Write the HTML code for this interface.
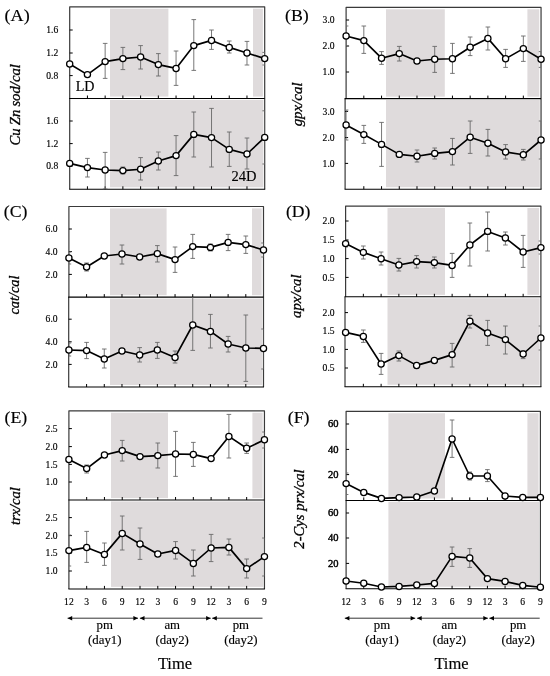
<!DOCTYPE html>
<html lang="en"><head><meta charset="utf-8"><title>Figure</title>
<style>html,body{margin:0;padding:0;background:#fff}body{width:550px;height:676px;overflow:hidden}</style>
</head><body>
<svg width="550" height="676" viewBox="0 0 550 676" style="display:block">
<rect width="550" height="676" fill="#fff"/>
<defs>
<clipPath id="ctA"><rect x="69.70" y="6.80" width="195.00" height="91.70"/></clipPath>
<clipPath id="cbA"><rect x="69.70" y="98.50" width="195.00" height="90.80"/></clipPath>
<clipPath id="ctB"><rect x="346.10" y="7.40" width="194.95" height="91.20"/></clipPath>
<clipPath id="cbB"><rect x="346.10" y="98.60" width="194.95" height="90.60"/></clipPath>
<clipPath id="ctC"><rect x="68.90" y="206.50" width="194.60" height="90.60"/></clipPath>
<clipPath id="cbC"><rect x="68.90" y="297.10" width="194.60" height="89.90"/></clipPath>
<clipPath id="ctD"><rect x="345.60" y="206.10" width="195.30" height="90.70"/></clipPath>
<clipPath id="cbD"><rect x="345.60" y="296.80" width="195.30" height="90.00"/></clipPath>
<clipPath id="ctE"><rect x="68.90" y="410.80" width="195.55" height="89.20"/></clipPath>
<clipPath id="cbE"><rect x="68.90" y="500.00" width="195.55" height="88.90"/></clipPath>
<clipPath id="ctF"><rect x="346.10" y="411.30" width="194.30" height="89.10"/></clipPath>
<clipPath id="cbF"><rect x="346.10" y="500.40" width="194.30" height="88.40"/></clipPath>
</defs>
<rect x="110.00" y="8.70" width="58.40" height="87.90" fill="#dfdbdc"/>
<rect x="253.00" y="8.70" width="9.90" height="87.90" fill="#dfdbdc"/>
<rect x="110.00" y="99.90" width="153.40" height="87.40" fill="#dfdbdc"/>
<path d="M69.70 98.50V6.80H264.70V189.30M69.70 98.50V189.30" stroke="#3a3a3a" stroke-width="1.2" fill="none" stroke-linejoin="round"/>
<path d="M69.20 98.50H264.70M69.20 189.30H265.20" stroke="#000" stroke-width="1.05" fill="none"/>
<path d="M87.43 98.50v-3M87.43 189.30v-3M105.15 98.50v-3M105.15 189.30v-3M122.88 98.50v-3M122.88 189.30v-3M140.61 98.50v-3M140.61 189.30v-3M158.34 98.50v-3M158.34 189.30v-3M176.06 98.50v-3M176.06 189.30v-3M193.79 98.50v-3M193.79 189.30v-3M211.52 98.50v-3M211.52 189.30v-3M229.25 98.50v-3M229.25 189.30v-3M246.97 98.50v-3M246.97 189.30v-3M69.70 30.00h3M69.70 53.00h3M69.70 75.60h3M69.70 121.00h3M69.70 143.60h3M69.70 166.00h3" stroke="#000" stroke-width="1" fill="none"/>
<g font-family="'Liberation Serif', serif" font-size="9.6" stroke-width="0.15" fill="#000" stroke="#000" text-anchor="end">
<text x="58.30" y="33.10">1.6</text>
<text x="58.30" y="56.10">1.2</text>
<text x="58.30" y="78.70">0.8</text>
<text x="58.30" y="124.10">1.6</text>
<text x="58.30" y="146.70">1.2</text>
<text x="58.30" y="169.10">0.8</text>
</g>
<g clip-path="url(#ctA)" stroke="#696969" stroke-width="0.9" fill="none">
<path d="M105.15 43.40V78.40M102.85 43.40h4.6M102.85 78.40h4.6"/>
<path d="M122.88 47.40V69.60M120.58 47.40h4.6M120.58 69.60h4.6"/>
<path d="M140.61 45.60V69.00M138.31 45.60h4.6M138.31 69.00h4.6"/>
<path d="M158.34 53.60V76.00M156.04 53.60h4.6M156.04 76.00h4.6"/>
<path d="M176.06 51.00V85.40M173.76 51.00h4.6M173.76 85.40h4.6"/>
<path d="M193.79 19.60V70.40M191.49 19.60h4.6M191.49 70.40h4.6"/>
<path d="M211.52 30.00V49.40M209.22 30.00h4.6M209.22 49.40h4.6"/>
<path d="M229.25 41.00V53.00M226.95 41.00h4.6M226.95 53.00h4.6"/>
<path d="M246.97 41.40V65.00M244.67 41.40h4.6M244.67 65.00h4.6"/>
<path d="M264.70 52.40V65.00M262.40 52.40h4.6M262.40 65.00h4.6"/>
</g>
<polyline points="69.70,64.00 87.43,74.60 105.15,61.60 122.88,58.60 140.61,57.00 158.34,64.60 176.06,68.40 193.79,45.60 211.52,40.40 229.25,47.40 246.97,53.00 264.70,58.60" fill="none" stroke="#000" stroke-width="1.65" stroke-linejoin="round"/>
<circle cx="69.70" cy="64.00" r="3.1" fill="#fff" stroke="#000" stroke-width="1.25"/>
<circle cx="87.43" cy="74.60" r="3.1" fill="#fff" stroke="#000" stroke-width="1.25"/>
<circle cx="105.15" cy="61.60" r="3.1" fill="#fff" stroke="#000" stroke-width="1.25"/>
<circle cx="122.88" cy="58.60" r="3.1" fill="#fff" stroke="#000" stroke-width="1.25"/>
<circle cx="140.61" cy="57.00" r="3.1" fill="#fff" stroke="#000" stroke-width="1.25"/>
<circle cx="158.34" cy="64.60" r="3.1" fill="#fff" stroke="#000" stroke-width="1.25"/>
<circle cx="176.06" cy="68.40" r="3.1" fill="#fff" stroke="#000" stroke-width="1.25"/>
<circle cx="193.79" cy="45.60" r="3.1" fill="#fff" stroke="#000" stroke-width="1.25"/>
<circle cx="211.52" cy="40.40" r="3.1" fill="#fff" stroke="#000" stroke-width="1.25"/>
<circle cx="229.25" cy="47.40" r="3.1" fill="#fff" stroke="#000" stroke-width="1.25"/>
<circle cx="246.97" cy="53.00" r="3.1" fill="#fff" stroke="#000" stroke-width="1.25"/>
<circle cx="264.70" cy="58.60" r="3.1" fill="#fff" stroke="#000" stroke-width="1.25"/>
<g clip-path="url(#cbA)" stroke="#696969" stroke-width="0.9" fill="none">
<path d="M87.43 158.40V177.00M85.13 158.40h4.6M85.13 177.00h4.6"/>
<path d="M105.15 152.40V189.00M102.85 152.40h4.6M102.85 189.00h4.6"/>
<path d="M122.88 167.00V174.00M120.58 167.00h4.6M120.58 174.00h4.6"/>
<path d="M140.61 157.60V180.00M138.31 157.60h4.6M138.31 180.00h4.6"/>
<path d="M158.34 152.00V170.00M156.04 152.00h4.6M156.04 170.00h4.6"/>
<path d="M176.06 135.60V175.60M173.76 135.60h4.6M173.76 175.60h4.6"/>
<path d="M193.79 112.00V157.00M191.49 112.00h4.6M191.49 157.00h4.6"/>
<path d="M211.52 108.40V167.00M209.22 108.40h4.6M209.22 167.00h4.6"/>
<path d="M229.25 132.00V166.40M226.95 132.00h4.6M226.95 166.40h4.6"/>
<path d="M246.97 138.00V169.00M244.67 138.00h4.6M244.67 169.00h4.6"/>
<path d="M264.70 110.80V164.00M262.40 110.80h4.6M262.40 164.00h4.6"/>
</g>
<polyline points="69.70,163.40 87.43,167.60 105.15,170.00 122.88,170.60 140.61,169.20 158.34,161.00 176.06,155.60 193.79,134.40 211.52,137.60 229.25,149.40 246.97,154.00 264.70,137.40" fill="none" stroke="#000" stroke-width="1.65" stroke-linejoin="round"/>
<circle cx="69.70" cy="163.40" r="3.1" fill="#fff" stroke="#000" stroke-width="1.25"/>
<circle cx="87.43" cy="167.60" r="3.1" fill="#fff" stroke="#000" stroke-width="1.25"/>
<circle cx="105.15" cy="170.00" r="3.1" fill="#fff" stroke="#000" stroke-width="1.25"/>
<circle cx="122.88" cy="170.60" r="3.1" fill="#fff" stroke="#000" stroke-width="1.25"/>
<circle cx="140.61" cy="169.20" r="3.1" fill="#fff" stroke="#000" stroke-width="1.25"/>
<circle cx="158.34" cy="161.00" r="3.1" fill="#fff" stroke="#000" stroke-width="1.25"/>
<circle cx="176.06" cy="155.60" r="3.1" fill="#fff" stroke="#000" stroke-width="1.25"/>
<circle cx="193.79" cy="134.40" r="3.1" fill="#fff" stroke="#000" stroke-width="1.25"/>
<circle cx="211.52" cy="137.60" r="3.1" fill="#fff" stroke="#000" stroke-width="1.25"/>
<circle cx="229.25" cy="149.40" r="3.1" fill="#fff" stroke="#000" stroke-width="1.25"/>
<circle cx="246.97" cy="154.00" r="3.1" fill="#fff" stroke="#000" stroke-width="1.25"/>
<circle cx="264.70" cy="137.40" r="3.1" fill="#fff" stroke="#000" stroke-width="1.25"/>
<text x="4.60" y="20.90" font-family="'Liberation Serif', serif" font-size="17.5" fill="#000" stroke="#000" stroke-width="0.15" textLength="25.1" lengthAdjust="spacingAndGlyphs">(A)</text>
<text transform="translate(20.40 145.45) rotate(-90)" font-family="'Liberation Serif', serif" font-style="italic" font-size="15" word-spacing="-0.6" fill="#000" stroke="#000" stroke-width="0.3" textLength="81.30" lengthAdjust="spacingAndGlyphs">Cu Zn sod/cal</text>
<rect x="386.00" y="9.30" width="58.80" height="87.40" fill="#dfdbdc"/>
<rect x="527.40" y="9.30" width="11.85" height="87.40" fill="#dfdbdc"/>
<rect x="386.00" y="100.00" width="153.75" height="87.20" fill="#dfdbdc"/>
<path d="M346.10 98.60V7.40H541.05V189.20M345.10 98.60V189.20" stroke="#3a3a3a" stroke-width="1.2" fill="none" stroke-linejoin="round"/>
<path d="M344.60 98.60H541.05M344.60 189.20H541.55" stroke="#000" stroke-width="1.05" fill="none"/>
<path d="M363.82 98.60v-3M363.82 189.20v-3M381.55 98.60v-3M381.55 189.20v-3M399.27 98.60v-3M399.27 189.20v-3M416.99 98.60v-3M416.99 189.20v-3M434.71 98.60v-3M434.71 189.20v-3M452.44 98.60v-3M452.44 189.20v-3M470.16 98.60v-3M470.16 189.20v-3M487.88 98.60v-3M487.88 189.20v-3M505.60 98.60v-3M505.60 189.20v-3M523.33 98.60v-3M523.33 189.20v-3M346.10 20.00h3M346.10 46.00h3M346.10 72.00h3M345.10 111.40h3M345.10 137.60h3M345.10 163.40h3" stroke="#000" stroke-width="1" fill="none"/>
<g font-family="'Liberation Serif', serif" font-size="9.6" stroke-width="0.15" fill="#000" stroke="#000" text-anchor="end">
<text x="334.60" y="23.10">3.0</text>
<text x="334.60" y="49.10">2.0</text>
<text x="334.60" y="75.10">1.0</text>
<text x="334.60" y="114.50">3.0</text>
<text x="334.60" y="140.70">2.0</text>
<text x="334.60" y="166.50">1.0</text>
</g>
<g clip-path="url(#ctB)" stroke="#696969" stroke-width="0.9" fill="none">
<path d="M346.10 26.00V46.00M343.80 26.00h4.6M343.80 46.00h4.6"/>
<path d="M363.82 26.00V53.40M361.52 26.00h4.6M361.52 53.40h4.6"/>
<path d="M381.55 51.60V64.40M379.25 51.60h4.6M379.25 64.40h4.6"/>
<path d="M399.27 46.40V61.00M396.97 46.40h4.6M396.97 61.00h4.6"/>
<path d="M434.71 46.40V72.40M432.41 46.40h4.6M432.41 72.40h4.6"/>
<path d="M452.44 43.40V73.40M450.14 43.40h4.6M450.14 73.40h4.6"/>
<path d="M470.16 37.00V55.60M467.86 37.00h4.6M467.86 55.60h4.6"/>
<path d="M487.88 27.00V50.00M485.58 27.00h4.6M485.58 50.00h4.6"/>
<path d="M505.60 49.40V67.40M503.30 49.40h4.6M503.30 67.40h4.6"/>
<path d="M523.33 36.00V61.40M521.03 36.00h4.6M521.03 61.40h4.6"/>
<path d="M541.05 51.60V67.40M538.75 51.60h4.6M538.75 67.40h4.6"/>
</g>
<polyline points="346.10,36.00 363.82,40.60 381.55,58.20 399.27,53.60 416.99,61.00 434.71,59.20 452.44,58.80 470.16,47.20 487.88,38.40 505.60,58.80 523.33,48.60 541.05,59.20" fill="none" stroke="#000" stroke-width="1.65" stroke-linejoin="round"/>
<circle cx="346.10" cy="36.00" r="3.1" fill="#fff" stroke="#000" stroke-width="1.25"/>
<circle cx="363.82" cy="40.60" r="3.1" fill="#fff" stroke="#000" stroke-width="1.25"/>
<circle cx="381.55" cy="58.20" r="3.1" fill="#fff" stroke="#000" stroke-width="1.25"/>
<circle cx="399.27" cy="53.60" r="3.1" fill="#fff" stroke="#000" stroke-width="1.25"/>
<circle cx="416.99" cy="61.00" r="3.1" fill="#fff" stroke="#000" stroke-width="1.25"/>
<circle cx="434.71" cy="59.20" r="3.1" fill="#fff" stroke="#000" stroke-width="1.25"/>
<circle cx="452.44" cy="58.80" r="3.1" fill="#fff" stroke="#000" stroke-width="1.25"/>
<circle cx="470.16" cy="47.20" r="3.1" fill="#fff" stroke="#000" stroke-width="1.25"/>
<circle cx="487.88" cy="38.40" r="3.1" fill="#fff" stroke="#000" stroke-width="1.25"/>
<circle cx="505.60" cy="58.80" r="3.1" fill="#fff" stroke="#000" stroke-width="1.25"/>
<circle cx="523.33" cy="48.60" r="3.1" fill="#fff" stroke="#000" stroke-width="1.25"/>
<circle cx="541.05" cy="59.20" r="3.1" fill="#fff" stroke="#000" stroke-width="1.25"/>
<g clip-path="url(#cbB)" stroke="#696969" stroke-width="0.9" fill="none">
<path d="M346.10 110.00V140.00M343.80 110.00h4.6M343.80 140.00h4.6"/>
<path d="M363.82 125.40V143.40M361.52 125.40h4.6M361.52 143.40h4.6"/>
<path d="M381.55 122.40V166.40M379.25 122.40h4.6M379.25 166.40h4.6"/>
<path d="M416.99 150.00V162.00M414.69 150.00h4.6M414.69 162.00h4.6"/>
<path d="M434.71 148.00V159.00M432.41 148.00h4.6M432.41 159.00h4.6"/>
<path d="M452.44 138.40V165.00M450.14 138.40h4.6M450.14 165.00h4.6"/>
<path d="M470.16 121.00V153.40M467.86 121.00h4.6M467.86 153.40h4.6"/>
<path d="M487.88 129.40V156.00M485.58 129.40h4.6M485.58 156.00h4.6"/>
<path d="M505.60 144.60V159.00M503.30 144.60h4.6M503.30 159.00h4.6"/>
<path d="M523.33 149.40V160.00M521.03 149.40h4.6M521.03 160.00h4.6"/>
<path d="M541.05 121.00V159.00M538.75 121.00h4.6M538.75 159.00h4.6"/>
</g>
<polyline points="346.10,125.00 363.82,134.60 381.55,144.40 399.27,154.40 416.99,156.20 434.71,153.40 452.44,151.60 470.16,137.20 487.88,143.20 505.60,152.00 523.33,154.80 541.05,140.00" fill="none" stroke="#000" stroke-width="1.65" stroke-linejoin="round"/>
<circle cx="346.10" cy="125.00" r="3.1" fill="#fff" stroke="#000" stroke-width="1.25"/>
<circle cx="363.82" cy="134.60" r="3.1" fill="#fff" stroke="#000" stroke-width="1.25"/>
<circle cx="381.55" cy="144.40" r="3.1" fill="#fff" stroke="#000" stroke-width="1.25"/>
<circle cx="399.27" cy="154.40" r="3.1" fill="#fff" stroke="#000" stroke-width="1.25"/>
<circle cx="416.99" cy="156.20" r="3.1" fill="#fff" stroke="#000" stroke-width="1.25"/>
<circle cx="434.71" cy="153.40" r="3.1" fill="#fff" stroke="#000" stroke-width="1.25"/>
<circle cx="452.44" cy="151.60" r="3.1" fill="#fff" stroke="#000" stroke-width="1.25"/>
<circle cx="470.16" cy="137.20" r="3.1" fill="#fff" stroke="#000" stroke-width="1.25"/>
<circle cx="487.88" cy="143.20" r="3.1" fill="#fff" stroke="#000" stroke-width="1.25"/>
<circle cx="505.60" cy="152.00" r="3.1" fill="#fff" stroke="#000" stroke-width="1.25"/>
<circle cx="523.33" cy="154.80" r="3.1" fill="#fff" stroke="#000" stroke-width="1.25"/>
<circle cx="541.05" cy="140.00" r="3.1" fill="#fff" stroke="#000" stroke-width="1.25"/>
<text x="285.00" y="20.90" font-family="'Liberation Serif', serif" font-size="17.5" fill="#000" stroke="#000" stroke-width="0.15" textLength="23.8" lengthAdjust="spacingAndGlyphs">(B)</text>
<text transform="translate(301.50 126.35) rotate(-90)" font-family="'Liberation Serif', serif" font-style="italic" font-size="15" word-spacing="0" fill="#000" stroke="#000" stroke-width="0.3" textLength="43.90" lengthAdjust="spacingAndGlyphs">gpx/cal</text>
<rect x="110.00" y="208.40" width="56.60" height="86.80" fill="#dfdbdc"/>
<rect x="252.00" y="208.40" width="9.70" height="86.80" fill="#dfdbdc"/>
<rect x="110.00" y="298.50" width="152.20" height="86.50" fill="#dfdbdc"/>
<path d="M68.90 297.10V206.50H263.50V387.00M68.70 297.10V387.00" stroke="#3a3a3a" stroke-width="1.2" fill="none" stroke-linejoin="round"/>
<path d="M68.20 297.10H263.50M68.20 387.00H264.00" stroke="#000" stroke-width="1.05" fill="none"/>
<path d="M86.59 297.10v-3M86.59 387.00v-3M104.28 297.10v-3M104.28 387.00v-3M121.97 297.10v-3M121.97 387.00v-3M139.66 297.10v-3M139.66 387.00v-3M157.35 297.10v-3M157.35 387.00v-3M175.05 297.10v-3M175.05 387.00v-3M192.74 297.10v-3M192.74 387.00v-3M210.43 297.10v-3M210.43 387.00v-3M228.12 297.10v-3M228.12 387.00v-3M245.81 297.10v-3M245.81 387.00v-3M68.90 229.00h3M68.90 251.60h3M68.90 274.40h3M68.70 319.20h3M68.70 341.80h3M68.70 364.40h3" stroke="#000" stroke-width="1" fill="none"/>
<g font-family="'Liberation Serif', serif" font-size="9.6" stroke-width="0.15" fill="#000" stroke="#000" text-anchor="end">
<text x="57.60" y="232.10">6.0</text>
<text x="57.60" y="254.70">4.0</text>
<text x="57.60" y="277.50">2.0</text>
<text x="57.60" y="322.30">6.0</text>
<text x="57.60" y="344.90">4.0</text>
<text x="57.60" y="367.50">2.0</text>
</g>
<g clip-path="url(#ctC)" stroke="#696969" stroke-width="0.9" fill="none">
<path d="M68.90 252.00V264.00M66.60 252.00h4.6M66.60 264.00h4.6"/>
<path d="M86.59 263.00V271.00M84.29 263.00h4.6M84.29 271.00h4.6"/>
<path d="M121.97 245.00V264.00M119.67 245.00h4.6M119.67 264.00h4.6"/>
<path d="M157.35 245.60V262.00M155.05 245.60h4.6M155.05 262.00h4.6"/>
<path d="M175.05 247.00V272.40M172.75 247.00h4.6M172.75 272.40h4.6"/>
<path d="M192.74 234.40V258.40M190.44 234.40h4.6M190.44 258.40h4.6"/>
<path d="M210.43 244.00V251.00M208.13 244.00h4.6M208.13 251.00h4.6"/>
<path d="M228.12 234.40V250.60M225.82 234.40h4.6M225.82 250.60h4.6"/>
<path d="M245.81 236.00V253.40M243.51 236.00h4.6M243.51 253.40h4.6"/>
<path d="M263.50 243.00V257.00M261.20 243.00h4.6M261.20 257.00h4.6"/>
</g>
<polyline points="68.90,258.00 86.59,267.00 104.28,256.00 121.97,254.00 139.66,257.00 157.35,253.60 175.05,259.60 192.74,246.60 210.43,247.40 228.12,242.40 245.81,244.60 263.50,250.00" fill="none" stroke="#000" stroke-width="1.65" stroke-linejoin="round"/>
<circle cx="68.90" cy="258.00" r="3.1" fill="#fff" stroke="#000" stroke-width="1.25"/>
<circle cx="86.59" cy="267.00" r="3.1" fill="#fff" stroke="#000" stroke-width="1.25"/>
<circle cx="104.28" cy="256.00" r="3.1" fill="#fff" stroke="#000" stroke-width="1.25"/>
<circle cx="121.97" cy="254.00" r="3.1" fill="#fff" stroke="#000" stroke-width="1.25"/>
<circle cx="139.66" cy="257.00" r="3.1" fill="#fff" stroke="#000" stroke-width="1.25"/>
<circle cx="157.35" cy="253.60" r="3.1" fill="#fff" stroke="#000" stroke-width="1.25"/>
<circle cx="175.05" cy="259.60" r="3.1" fill="#fff" stroke="#000" stroke-width="1.25"/>
<circle cx="192.74" cy="246.60" r="3.1" fill="#fff" stroke="#000" stroke-width="1.25"/>
<circle cx="210.43" cy="247.40" r="3.1" fill="#fff" stroke="#000" stroke-width="1.25"/>
<circle cx="228.12" cy="242.40" r="3.1" fill="#fff" stroke="#000" stroke-width="1.25"/>
<circle cx="245.81" cy="244.60" r="3.1" fill="#fff" stroke="#000" stroke-width="1.25"/>
<circle cx="263.50" cy="250.00" r="3.1" fill="#fff" stroke="#000" stroke-width="1.25"/>
<g clip-path="url(#cbC)" stroke="#696969" stroke-width="0.9" fill="none">
<path d="M68.90 343.00V356.00M66.60 343.00h4.6M66.60 356.00h4.6"/>
<path d="M86.59 342.40V358.60M84.29 342.40h4.6M84.29 358.60h4.6"/>
<path d="M104.28 349.00V368.00M101.98 349.00h4.6M101.98 368.00h4.6"/>
<path d="M139.66 347.60V362.00M137.36 347.60h4.6M137.36 362.00h4.6"/>
<path d="M157.35 342.40V358.40M155.05 342.40h4.6M155.05 358.40h4.6"/>
<path d="M175.05 351.00V363.00M172.75 351.00h4.6M172.75 363.00h4.6"/>
<path d="M192.74 295.00V350.40M190.44 295.00h4.6M190.44 350.40h4.6"/>
<path d="M210.43 314.40V348.00M208.13 314.40h4.6M208.13 348.00h4.6"/>
<path d="M228.12 336.40V352.00M225.82 336.40h4.6M225.82 352.00h4.6"/>
<path d="M245.81 315.00V381.40M243.51 315.00h4.6M243.51 381.40h4.6"/>
<path d="M263.50 329.00V369.00M261.20 329.00h4.6M261.20 369.00h4.6"/>
</g>
<polyline points="68.90,350.00 86.59,350.60 104.28,359.00 121.97,351.00 139.66,355.00 157.35,350.00 175.05,357.40 192.74,325.00 210.43,331.40 228.12,344.00 245.81,348.00 263.50,348.40" fill="none" stroke="#000" stroke-width="1.65" stroke-linejoin="round"/>
<circle cx="68.90" cy="350.00" r="3.1" fill="#fff" stroke="#000" stroke-width="1.25"/>
<circle cx="86.59" cy="350.60" r="3.1" fill="#fff" stroke="#000" stroke-width="1.25"/>
<circle cx="104.28" cy="359.00" r="3.1" fill="#fff" stroke="#000" stroke-width="1.25"/>
<circle cx="121.97" cy="351.00" r="3.1" fill="#fff" stroke="#000" stroke-width="1.25"/>
<circle cx="139.66" cy="355.00" r="3.1" fill="#fff" stroke="#000" stroke-width="1.25"/>
<circle cx="157.35" cy="350.00" r="3.1" fill="#fff" stroke="#000" stroke-width="1.25"/>
<circle cx="175.05" cy="357.40" r="3.1" fill="#fff" stroke="#000" stroke-width="1.25"/>
<circle cx="192.74" cy="325.00" r="3.1" fill="#fff" stroke="#000" stroke-width="1.25"/>
<circle cx="210.43" cy="331.40" r="3.1" fill="#fff" stroke="#000" stroke-width="1.25"/>
<circle cx="228.12" cy="344.00" r="3.1" fill="#fff" stroke="#000" stroke-width="1.25"/>
<circle cx="245.81" cy="348.00" r="3.1" fill="#fff" stroke="#000" stroke-width="1.25"/>
<circle cx="263.50" cy="348.40" r="3.1" fill="#fff" stroke="#000" stroke-width="1.25"/>
<text x="3.80" y="217.00" font-family="'Liberation Serif', serif" font-size="17.5" fill="#000" stroke="#000" stroke-width="0.15" textLength="23.7" lengthAdjust="spacingAndGlyphs">(C)</text>
<text transform="translate(19.40 314.50) rotate(-90)" font-family="'Liberation Serif', serif" font-style="italic" font-size="15" word-spacing="0" fill="#000" stroke="#000" stroke-width="0.3" textLength="39.00" lengthAdjust="spacingAndGlyphs">cat/cal</text>
<rect x="387.50" y="208.00" width="57.50" height="86.90" fill="#dfdbdc"/>
<rect x="527.40" y="208.00" width="11.70" height="86.90" fill="#dfdbdc"/>
<rect x="387.50" y="298.20" width="152.10" height="86.60" fill="#dfdbdc"/>
<path d="M345.60 296.80V206.10H540.90V386.80M345.00 296.80V386.80" stroke="#3a3a3a" stroke-width="1.2" fill="none" stroke-linejoin="round"/>
<path d="M344.50 296.80H540.90M344.50 386.80H541.40" stroke="#000" stroke-width="1.05" fill="none"/>
<path d="M363.35 296.80v-3M363.35 386.80v-3M381.11 296.80v-3M381.11 386.80v-3M398.86 296.80v-3M398.86 386.80v-3M416.62 296.80v-3M416.62 386.80v-3M434.37 296.80v-3M434.37 386.80v-3M452.13 296.80v-3M452.13 386.80v-3M469.88 296.80v-3M469.88 386.80v-3M487.64 296.80v-3M487.64 386.80v-3M505.39 296.80v-3M505.39 386.80v-3M523.15 296.80v-3M523.15 386.80v-3M345.60 221.00h3M345.60 240.00h3M345.60 258.60h3M345.60 277.40h3M345.00 312.60h3M345.00 331.00h3M345.00 349.40h3M345.00 368.00h3" stroke="#000" stroke-width="1" fill="none"/>
<g font-family="'Liberation Serif', serif" font-size="9.6" stroke-width="0.15" fill="#000" stroke="#000" text-anchor="end">
<text x="334.60" y="224.10">2.0</text>
<text x="334.60" y="243.10">1.5</text>
<text x="334.60" y="261.70">1.0</text>
<text x="334.60" y="280.50">0.5</text>
<text x="334.60" y="315.70">2.0</text>
<text x="334.60" y="334.10">1.5</text>
<text x="334.60" y="352.50">1.0</text>
<text x="334.60" y="371.10">0.5</text>
</g>
<g clip-path="url(#ctD)" stroke="#696969" stroke-width="0.9" fill="none">
<path d="M345.60 240.00V247.00M343.30 240.00h4.6M343.30 247.00h4.6"/>
<path d="M363.35 246.00V259.00M361.05 246.00h4.6M361.05 259.00h4.6"/>
<path d="M381.11 252.00V265.00M378.81 252.00h4.6M378.81 265.00h4.6"/>
<path d="M398.86 258.40V271.00M396.56 258.40h4.6M396.56 271.00h4.6"/>
<path d="M416.62 255.60V268.00M414.32 255.60h4.6M414.32 268.00h4.6"/>
<path d="M434.37 257.00V268.00M432.07 257.00h4.6M432.07 268.00h4.6"/>
<path d="M452.13 253.40V277.40M449.83 253.40h4.6M449.83 277.40h4.6"/>
<path d="M469.88 223.00V266.00M467.58 223.00h4.6M467.58 266.00h4.6"/>
<path d="M487.64 212.00V251.00M485.34 212.00h4.6M485.34 251.00h4.6"/>
<path d="M505.39 232.00V245.00M503.09 232.00h4.6M503.09 245.00h4.6"/>
<path d="M523.15 235.40V267.40M520.85 235.40h4.6M520.85 267.40h4.6"/>
<path d="M540.90 241.00V254.00M538.60 241.00h4.6M538.60 254.00h4.6"/>
</g>
<polyline points="345.60,243.60 363.35,252.40 381.11,258.80 398.86,265.00 416.62,261.60 434.37,262.60 452.13,265.40 469.88,245.00 487.64,231.40 505.39,238.00 523.15,252.00 540.90,247.60" fill="none" stroke="#000" stroke-width="1.65" stroke-linejoin="round"/>
<circle cx="345.60" cy="243.60" r="3.1" fill="#fff" stroke="#000" stroke-width="1.25"/>
<circle cx="363.35" cy="252.40" r="3.1" fill="#fff" stroke="#000" stroke-width="1.25"/>
<circle cx="381.11" cy="258.80" r="3.1" fill="#fff" stroke="#000" stroke-width="1.25"/>
<circle cx="398.86" cy="265.00" r="3.1" fill="#fff" stroke="#000" stroke-width="1.25"/>
<circle cx="416.62" cy="261.60" r="3.1" fill="#fff" stroke="#000" stroke-width="1.25"/>
<circle cx="434.37" cy="262.60" r="3.1" fill="#fff" stroke="#000" stroke-width="1.25"/>
<circle cx="452.13" cy="265.40" r="3.1" fill="#fff" stroke="#000" stroke-width="1.25"/>
<circle cx="469.88" cy="245.00" r="3.1" fill="#fff" stroke="#000" stroke-width="1.25"/>
<circle cx="487.64" cy="231.40" r="3.1" fill="#fff" stroke="#000" stroke-width="1.25"/>
<circle cx="505.39" cy="238.00" r="3.1" fill="#fff" stroke="#000" stroke-width="1.25"/>
<circle cx="523.15" cy="252.00" r="3.1" fill="#fff" stroke="#000" stroke-width="1.25"/>
<circle cx="540.90" cy="247.60" r="3.1" fill="#fff" stroke="#000" stroke-width="1.25"/>
<g clip-path="url(#cbD)" stroke="#696969" stroke-width="0.9" fill="none">
<path d="M363.35 330.00V342.40M361.05 330.00h4.6M361.05 342.40h4.6"/>
<path d="M381.11 353.40V374.40M378.81 353.40h4.6M378.81 374.40h4.6"/>
<path d="M398.86 351.00V361.00M396.56 351.00h4.6M396.56 361.00h4.6"/>
<path d="M416.62 363.00V368.40M414.32 363.00h4.6M414.32 368.40h4.6"/>
<path d="M452.13 343.40V367.00M449.83 343.40h4.6M449.83 367.00h4.6"/>
<path d="M469.88 315.40V328.00M467.58 315.40h4.6M467.58 328.00h4.6"/>
<path d="M487.64 320.40V345.40M485.34 320.40h4.6M485.34 345.40h4.6"/>
<path d="M505.39 326.00V354.00M503.09 326.00h4.6M503.09 354.00h4.6"/>
<path d="M523.15 351.00V358.60M520.85 351.00h4.6M520.85 358.60h4.6"/>
<path d="M540.90 326.00V350.00M538.60 326.00h4.6M538.60 350.00h4.6"/>
</g>
<polyline points="345.60,332.40 363.35,336.40 381.11,364.00 398.86,355.60 416.62,365.40 434.37,360.40 452.13,354.60 469.88,321.20 487.64,333.00 505.39,339.60 523.15,354.00 540.90,338.00" fill="none" stroke="#000" stroke-width="1.65" stroke-linejoin="round"/>
<circle cx="345.60" cy="332.40" r="3.1" fill="#fff" stroke="#000" stroke-width="1.25"/>
<circle cx="363.35" cy="336.40" r="3.1" fill="#fff" stroke="#000" stroke-width="1.25"/>
<circle cx="381.11" cy="364.00" r="3.1" fill="#fff" stroke="#000" stroke-width="1.25"/>
<circle cx="398.86" cy="355.60" r="3.1" fill="#fff" stroke="#000" stroke-width="1.25"/>
<circle cx="416.62" cy="365.40" r="3.1" fill="#fff" stroke="#000" stroke-width="1.25"/>
<circle cx="434.37" cy="360.40" r="3.1" fill="#fff" stroke="#000" stroke-width="1.25"/>
<circle cx="452.13" cy="354.60" r="3.1" fill="#fff" stroke="#000" stroke-width="1.25"/>
<circle cx="469.88" cy="321.20" r="3.1" fill="#fff" stroke="#000" stroke-width="1.25"/>
<circle cx="487.64" cy="333.00" r="3.1" fill="#fff" stroke="#000" stroke-width="1.25"/>
<circle cx="505.39" cy="339.60" r="3.1" fill="#fff" stroke="#000" stroke-width="1.25"/>
<circle cx="523.15" cy="354.00" r="3.1" fill="#fff" stroke="#000" stroke-width="1.25"/>
<circle cx="540.90" cy="338.00" r="3.1" fill="#fff" stroke="#000" stroke-width="1.25"/>
<text x="285.90" y="216.50" font-family="'Liberation Serif', serif" font-size="17.5" fill="#000" stroke="#000" stroke-width="0.15" textLength="24.5" lengthAdjust="spacingAndGlyphs">(D)</text>
<text transform="translate(301.20 318.00) rotate(-90)" font-family="'Liberation Serif', serif" font-style="italic" font-size="15" word-spacing="0" fill="#000" stroke="#000" stroke-width="0.3" textLength="43.60" lengthAdjust="spacingAndGlyphs">apx/cal</text>
<rect x="111.00" y="412.70" width="57.00" height="85.40" fill="#dfdbdc"/>
<rect x="252.40" y="412.70" width="10.25" height="85.40" fill="#dfdbdc"/>
<rect x="111.00" y="501.40" width="152.15" height="85.50" fill="#dfdbdc"/>
<path d="M68.90 500.00V410.80H264.45V588.90M68.90 500.00V588.90" stroke="#3a3a3a" stroke-width="1.2" fill="none" stroke-linejoin="round"/>
<path d="M68.40 500.00H264.45M68.40 588.90H264.95" stroke="#000" stroke-width="1.05" fill="none"/>
<path d="M86.68 500.00v-3M86.68 588.90v-3M104.45 500.00v-3M104.45 588.90v-3M122.23 500.00v-3M122.23 588.90v-3M140.01 500.00v-3M140.01 588.90v-3M157.79 500.00v-3M157.79 588.90v-3M175.56 500.00v-3M175.56 588.90v-3M193.34 500.00v-3M193.34 588.90v-3M211.12 500.00v-3M211.12 588.90v-3M228.90 500.00v-3M228.90 588.90v-3M246.67 500.00v-3M246.67 588.90v-3M68.90 428.60h3M68.90 446.60h3M68.90 464.40h3M68.90 482.00h3M68.90 517.60h3M68.90 535.60h3M68.90 553.00h3M68.90 571.00h3" stroke="#000" stroke-width="1" fill="none"/>
<g font-family="'Liberation Serif', serif" font-size="9.6" stroke-width="0.15" fill="#000" stroke="#000" text-anchor="end">
<text x="57.60" y="431.70">2.5</text>
<text x="57.60" y="449.70">2.0</text>
<text x="57.60" y="467.50">1.5</text>
<text x="57.60" y="485.10">1.0</text>
<text x="57.60" y="520.70">2.5</text>
<text x="57.60" y="538.70">2.0</text>
<text x="57.60" y="556.10">1.5</text>
<text x="57.60" y="574.10">1.0</text>
</g>
<g clip-path="url(#ctE)" stroke="#696969" stroke-width="0.9" fill="none">
<path d="M86.68 465.00V473.00M84.38 465.00h4.6M84.38 473.00h4.6"/>
<path d="M122.23 440.40V461.00M119.93 440.40h4.6M119.93 461.00h4.6"/>
<path d="M157.79 443.00V468.00M155.49 443.00h4.6M155.49 468.00h4.6"/>
<path d="M175.56 431.40V476.40M173.26 431.40h4.6M173.26 476.40h4.6"/>
<path d="M193.34 442.40V466.40M191.04 442.40h4.6M191.04 466.40h4.6"/>
<path d="M228.90 414.40V458.00M226.60 414.40h4.6M226.60 458.00h4.6"/>
<path d="M246.67 443.00V453.40M244.37 443.00h4.6M244.37 453.40h4.6"/>
<path d="M264.45 432.00V448.00M262.15 432.00h4.6M262.15 448.00h4.6"/>
</g>
<polyline points="68.90,459.40 86.68,468.60 104.45,455.00 122.23,450.60 140.01,456.60 157.79,455.60 175.56,454.00 193.34,454.40 211.12,458.60 228.90,436.40 246.67,448.20 264.45,439.80" fill="none" stroke="#000" stroke-width="1.65" stroke-linejoin="round"/>
<circle cx="68.90" cy="459.40" r="3.1" fill="#fff" stroke="#000" stroke-width="1.25"/>
<circle cx="86.68" cy="468.60" r="3.1" fill="#fff" stroke="#000" stroke-width="1.25"/>
<circle cx="104.45" cy="455.00" r="3.1" fill="#fff" stroke="#000" stroke-width="1.25"/>
<circle cx="122.23" cy="450.60" r="3.1" fill="#fff" stroke="#000" stroke-width="1.25"/>
<circle cx="140.01" cy="456.60" r="3.1" fill="#fff" stroke="#000" stroke-width="1.25"/>
<circle cx="157.79" cy="455.60" r="3.1" fill="#fff" stroke="#000" stroke-width="1.25"/>
<circle cx="175.56" cy="454.00" r="3.1" fill="#fff" stroke="#000" stroke-width="1.25"/>
<circle cx="193.34" cy="454.40" r="3.1" fill="#fff" stroke="#000" stroke-width="1.25"/>
<circle cx="211.12" cy="458.60" r="3.1" fill="#fff" stroke="#000" stroke-width="1.25"/>
<circle cx="228.90" cy="436.40" r="3.1" fill="#fff" stroke="#000" stroke-width="1.25"/>
<circle cx="246.67" cy="448.20" r="3.1" fill="#fff" stroke="#000" stroke-width="1.25"/>
<circle cx="264.45" cy="439.80" r="3.1" fill="#fff" stroke="#000" stroke-width="1.25"/>
<g clip-path="url(#cbE)" stroke="#696969" stroke-width="0.9" fill="none">
<path d="M68.90 535.00V566.00M66.60 535.00h4.6M66.60 566.00h4.6"/>
<path d="M86.68 531.40V562.40M84.38 531.40h4.6M84.38 562.40h4.6"/>
<path d="M104.45 543.00V565.40M102.15 543.00h4.6M102.15 565.40h4.6"/>
<path d="M122.23 516.00V550.00M119.93 516.00h4.6M119.93 550.00h4.6"/>
<path d="M140.01 528.00V559.40M137.71 528.00h4.6M137.71 559.40h4.6"/>
<path d="M175.56 541.60V559.00M173.26 541.60h4.6M173.26 559.00h4.6"/>
<path d="M193.34 550.00V576.00M191.04 550.00h4.6M191.04 576.00h4.6"/>
<path d="M211.12 534.40V561.60M208.82 534.40h4.6M208.82 561.60h4.6"/>
<path d="M228.90 539.00V555.00M226.60 539.00h4.6M226.60 555.00h4.6"/>
<path d="M246.67 559.00V578.00M244.37 559.00h4.6M244.37 578.00h4.6"/>
<path d="M264.45 538.00V576.00M262.15 538.00h4.6M262.15 576.00h4.6"/>
</g>
<polyline points="68.90,550.60 86.68,547.40 104.45,554.40 122.23,533.40 140.01,544.00 157.79,554.00 175.56,550.40 193.34,563.40 211.12,548.00 228.90,547.40 246.67,568.60 264.45,556.60" fill="none" stroke="#000" stroke-width="1.65" stroke-linejoin="round"/>
<circle cx="68.90" cy="550.60" r="3.1" fill="#fff" stroke="#000" stroke-width="1.25"/>
<circle cx="86.68" cy="547.40" r="3.1" fill="#fff" stroke="#000" stroke-width="1.25"/>
<circle cx="104.45" cy="554.40" r="3.1" fill="#fff" stroke="#000" stroke-width="1.25"/>
<circle cx="122.23" cy="533.40" r="3.1" fill="#fff" stroke="#000" stroke-width="1.25"/>
<circle cx="140.01" cy="544.00" r="3.1" fill="#fff" stroke="#000" stroke-width="1.25"/>
<circle cx="157.79" cy="554.00" r="3.1" fill="#fff" stroke="#000" stroke-width="1.25"/>
<circle cx="175.56" cy="550.40" r="3.1" fill="#fff" stroke="#000" stroke-width="1.25"/>
<circle cx="193.34" cy="563.40" r="3.1" fill="#fff" stroke="#000" stroke-width="1.25"/>
<circle cx="211.12" cy="548.00" r="3.1" fill="#fff" stroke="#000" stroke-width="1.25"/>
<circle cx="228.90" cy="547.40" r="3.1" fill="#fff" stroke="#000" stroke-width="1.25"/>
<circle cx="246.67" cy="568.60" r="3.1" fill="#fff" stroke="#000" stroke-width="1.25"/>
<circle cx="264.45" cy="556.60" r="3.1" fill="#fff" stroke="#000" stroke-width="1.25"/>
<text x="4.60" y="422.90" font-family="'Liberation Serif', serif" font-size="17.5" fill="#000" stroke="#000" stroke-width="0.15" textLength="22.7" lengthAdjust="spacingAndGlyphs">(E)</text>
<text transform="translate(19.80 525.10) rotate(-90)" font-family="'Liberation Serif', serif" font-style="italic" font-size="15" word-spacing="0" fill="#000" stroke="#000" stroke-width="0.3" textLength="38.00" lengthAdjust="spacingAndGlyphs">trx/cal</text>
<rect x="388.40" y="413.20" width="56.60" height="85.30" fill="#dfdbdc"/>
<rect x="527.40" y="413.20" width="11.20" height="85.30" fill="#dfdbdc"/>
<rect x="388.40" y="501.80" width="150.70" height="85.00" fill="#dfdbdc"/>
<path d="M346.10 500.40V411.30H540.40V588.80M346.10 500.40V588.80" stroke="#3a3a3a" stroke-width="1.2" fill="none" stroke-linejoin="round"/>
<path d="M345.60 500.40H540.40M345.60 588.80H540.90" stroke="#000" stroke-width="1.05" fill="none"/>
<path d="M363.76 500.40v-3M363.76 588.80v-3M381.43 500.40v-3M381.43 588.80v-3M399.09 500.40v-3M399.09 588.80v-3M416.75 500.40v-3M416.75 588.80v-3M434.42 500.40v-3M434.42 588.80v-3M452.08 500.40v-3M452.08 588.80v-3M469.75 500.40v-3M469.75 588.80v-3M487.41 500.40v-3M487.41 588.80v-3M505.07 500.40v-3M505.07 588.80v-3M522.74 500.40v-3M522.74 588.80v-3M346.10 424.00h3M346.10 449.40h3M346.10 474.60h3M346.10 513.00h3M346.10 538.00h3M346.10 563.40h3" stroke="#000" stroke-width="1" fill="none"/>
<g font-family="'Liberation Serif', serif" font-size="9.7" stroke-width="0.4" fill="#000" stroke="#000" text-anchor="end">
<text x="338.60" y="427.10" textLength="10.5" lengthAdjust="spacingAndGlyphs">60</text>
<text x="338.60" y="452.50" textLength="10.5" lengthAdjust="spacingAndGlyphs">40</text>
<text x="338.60" y="477.70" textLength="10.5" lengthAdjust="spacingAndGlyphs">20</text>
<text x="338.60" y="516.10" textLength="10.5" lengthAdjust="spacingAndGlyphs">60</text>
<text x="338.60" y="541.10" textLength="10.5" lengthAdjust="spacingAndGlyphs">40</text>
<text x="338.60" y="566.50" textLength="10.5" lengthAdjust="spacingAndGlyphs">20</text>
</g>
<g clip-path="url(#ctF)" stroke="#696969" stroke-width="0.9" fill="none">
<path d="M346.10 473.00V494.50M343.80 473.00h4.6M343.80 494.50h4.6"/>
<path d="M452.08 420.00V457.40M449.78 420.00h4.6M449.78 457.40h4.6"/>
<path d="M469.75 472.00V480.00M467.45 472.00h4.6M467.45 480.00h4.6"/>
<path d="M487.41 469.60V481.60M485.11 469.60h4.6M485.11 481.60h4.6"/>
</g>
<polyline points="346.10,483.60 363.76,492.40 381.43,498.40 399.09,497.60 416.75,497.00 434.42,491.00 452.08,439.00 469.75,476.00 487.41,476.00 505.07,496.00 522.74,497.40 540.40,497.40" fill="none" stroke="#000" stroke-width="1.65" stroke-linejoin="round"/>
<circle cx="346.10" cy="483.60" r="3.1" fill="#fff" stroke="#000" stroke-width="1.25"/>
<circle cx="363.76" cy="492.40" r="3.1" fill="#fff" stroke="#000" stroke-width="1.25"/>
<circle cx="381.43" cy="498.40" r="3.1" fill="#fff" stroke="#000" stroke-width="1.25"/>
<circle cx="399.09" cy="497.60" r="3.1" fill="#fff" stroke="#000" stroke-width="1.25"/>
<circle cx="416.75" cy="497.00" r="3.1" fill="#fff" stroke="#000" stroke-width="1.25"/>
<circle cx="434.42" cy="491.00" r="3.1" fill="#fff" stroke="#000" stroke-width="1.25"/>
<circle cx="452.08" cy="439.00" r="3.1" fill="#fff" stroke="#000" stroke-width="1.25"/>
<circle cx="469.75" cy="476.00" r="3.1" fill="#fff" stroke="#000" stroke-width="1.25"/>
<circle cx="487.41" cy="476.00" r="3.1" fill="#fff" stroke="#000" stroke-width="1.25"/>
<circle cx="505.07" cy="496.00" r="3.1" fill="#fff" stroke="#000" stroke-width="1.25"/>
<circle cx="522.74" cy="497.40" r="3.1" fill="#fff" stroke="#000" stroke-width="1.25"/>
<circle cx="540.40" cy="497.40" r="3.1" fill="#fff" stroke="#000" stroke-width="1.25"/>
<g clip-path="url(#cbF)" stroke="#696969" stroke-width="0.9" fill="none">
<path d="M452.08 547.00V566.40M449.78 547.00h4.6M449.78 566.40h4.6"/>
<path d="M469.75 548.60V567.40M467.45 548.60h4.6M467.45 567.40h4.6"/>
</g>
<polyline points="346.10,581.00 363.76,583.20 381.43,587.00 399.09,586.40 416.75,585.00 434.42,583.40 452.08,556.40 469.75,558.00 487.41,578.60 505.07,581.40 522.74,585.40 540.40,587.20" fill="none" stroke="#000" stroke-width="1.65" stroke-linejoin="round"/>
<circle cx="346.10" cy="581.00" r="3.1" fill="#fff" stroke="#000" stroke-width="1.25"/>
<circle cx="363.76" cy="583.20" r="3.1" fill="#fff" stroke="#000" stroke-width="1.25"/>
<circle cx="381.43" cy="587.00" r="3.1" fill="#fff" stroke="#000" stroke-width="1.25"/>
<circle cx="399.09" cy="586.40" r="3.1" fill="#fff" stroke="#000" stroke-width="1.25"/>
<circle cx="416.75" cy="585.00" r="3.1" fill="#fff" stroke="#000" stroke-width="1.25"/>
<circle cx="434.42" cy="583.40" r="3.1" fill="#fff" stroke="#000" stroke-width="1.25"/>
<circle cx="452.08" cy="556.40" r="3.1" fill="#fff" stroke="#000" stroke-width="1.25"/>
<circle cx="469.75" cy="558.00" r="3.1" fill="#fff" stroke="#000" stroke-width="1.25"/>
<circle cx="487.41" cy="578.60" r="3.1" fill="#fff" stroke="#000" stroke-width="1.25"/>
<circle cx="505.07" cy="581.40" r="3.1" fill="#fff" stroke="#000" stroke-width="1.25"/>
<circle cx="522.74" cy="585.40" r="3.1" fill="#fff" stroke="#000" stroke-width="1.25"/>
<circle cx="540.40" cy="587.20" r="3.1" fill="#fff" stroke="#000" stroke-width="1.25"/>
<text x="287.70" y="422.90" font-family="'Liberation Serif', serif" font-size="17.5" fill="#000" stroke="#000" stroke-width="0.15" textLength="21.9" lengthAdjust="spacingAndGlyphs">(F)</text>
<text transform="translate(304.30 548.65) rotate(-90)" font-family="'Liberation Serif', serif" font-style="italic" font-size="15" word-spacing="0" fill="#000" stroke="#000" stroke-width="0.3" textLength="79.30" lengthAdjust="spacingAndGlyphs">2-Cys prx/cal</text>
<text x="75.7" y="90.6" font-family="'Liberation Serif', serif" font-size="14" fill="#000" stroke="#000" stroke-width="0.15" textLength="18.8" lengthAdjust="spacingAndGlyphs">LD</text>
<text x="231.4" y="181.4" font-family="'Liberation Serif', serif" font-size="14" fill="#000" stroke="#000" stroke-width="0.15" textLength="25" lengthAdjust="spacingAndGlyphs">24D</text>
<g font-family="'Liberation Serif', serif" font-size="9.6" fill="#000" stroke="#000" stroke-width="0.15" text-anchor="middle">
<text x="68.90" y="604.50">12</text>
<text x="86.68" y="604.50">3</text>
<text x="104.45" y="604.50">6</text>
<text x="122.23" y="604.50">9</text>
<text x="140.01" y="604.50">12</text>
<text x="157.79" y="604.50">3</text>
<text x="175.56" y="604.50">6</text>
<text x="193.34" y="604.50">9</text>
<text x="211.12" y="604.50">12</text>
<text x="228.90" y="604.50">3</text>
<text x="246.67" y="604.50">6</text>
<text x="264.45" y="604.50">9</text>
</g>
<path d="M67.60 618.2H138.00" stroke="#000" stroke-width="0.8"/>
<path d="M67.60 618.2l4.6 -2.3v4.6z" fill="#000"/>
<path d="M138.00 618.2l-4.6 -2.3v4.6z" fill="#000"/>
<path d="M139.90 618.2H210.70" stroke="#000" stroke-width="0.8"/>
<path d="M139.90 618.2l4.6 -2.3v4.6z" fill="#000"/>
<path d="M210.70 618.2l-4.6 -2.3v4.6z" fill="#000"/>
<path d="M212.20 618.2H262.50" stroke="#000" stroke-width="0.8"/>
<path d="M212.20 618.2l4.6 -2.3v4.6z" fill="#000"/>
<g font-family="'Liberation Serif', serif" font-size="12.8" fill="#000" stroke="#000" stroke-width="0.15" text-anchor="middle">
<text x="104.80" y="628.8">pm</text>
<text x="104.80" y="643.8">(day1)</text>
<text x="172.20" y="628.8">am</text>
<text x="172.20" y="643.8">(day2)</text>
<text x="240.90" y="628.8">pm</text>
<text x="240.90" y="643.8">(day2)</text>
</g>
<text x="175.00" y="668.5" font-family="'Liberation Serif', serif" font-size="16.5" fill="#000" stroke="#000" stroke-width="0.15" text-anchor="middle">Time</text>
<g font-family="'Liberation Serif', serif" font-size="9.6" fill="#000" stroke="#000" stroke-width="0.15" text-anchor="middle">
<text x="346.10" y="604.50">12</text>
<text x="363.76" y="604.50">3</text>
<text x="381.43" y="604.50">6</text>
<text x="399.09" y="604.50">9</text>
<text x="416.75" y="604.50">12</text>
<text x="434.42" y="604.50">3</text>
<text x="452.08" y="604.50">6</text>
<text x="469.75" y="604.50">9</text>
<text x="487.41" y="604.50">12</text>
<text x="505.07" y="604.50">3</text>
<text x="522.74" y="604.50">6</text>
<text x="540.40" y="604.50">9</text>
</g>
<path d="M344.80 618.2H415.20" stroke="#000" stroke-width="0.8"/>
<path d="M344.80 618.2l4.6 -2.3v4.6z" fill="#000"/>
<path d="M415.20 618.2l-4.6 -2.3v4.6z" fill="#000"/>
<path d="M417.10 618.2H487.90" stroke="#000" stroke-width="0.8"/>
<path d="M417.10 618.2l4.6 -2.3v4.6z" fill="#000"/>
<path d="M487.90 618.2l-4.6 -2.3v4.6z" fill="#000"/>
<path d="M489.40 618.2H539.70" stroke="#000" stroke-width="0.8"/>
<path d="M489.40 618.2l4.6 -2.3v4.6z" fill="#000"/>
<g font-family="'Liberation Serif', serif" font-size="12.8" fill="#000" stroke="#000" stroke-width="0.15" text-anchor="middle">
<text x="382.00" y="628.8">pm</text>
<text x="382.00" y="643.8">(day1)</text>
<text x="449.40" y="628.8">am</text>
<text x="449.40" y="643.8">(day2)</text>
<text x="518.10" y="628.8">pm</text>
<text x="518.10" y="643.8">(day2)</text>
</g>
<text x="451.50" y="668.5" font-family="'Liberation Serif', serif" font-size="16.5" fill="#000" stroke="#000" stroke-width="0.15" text-anchor="middle">Time</text>
</svg>
</body></html>
